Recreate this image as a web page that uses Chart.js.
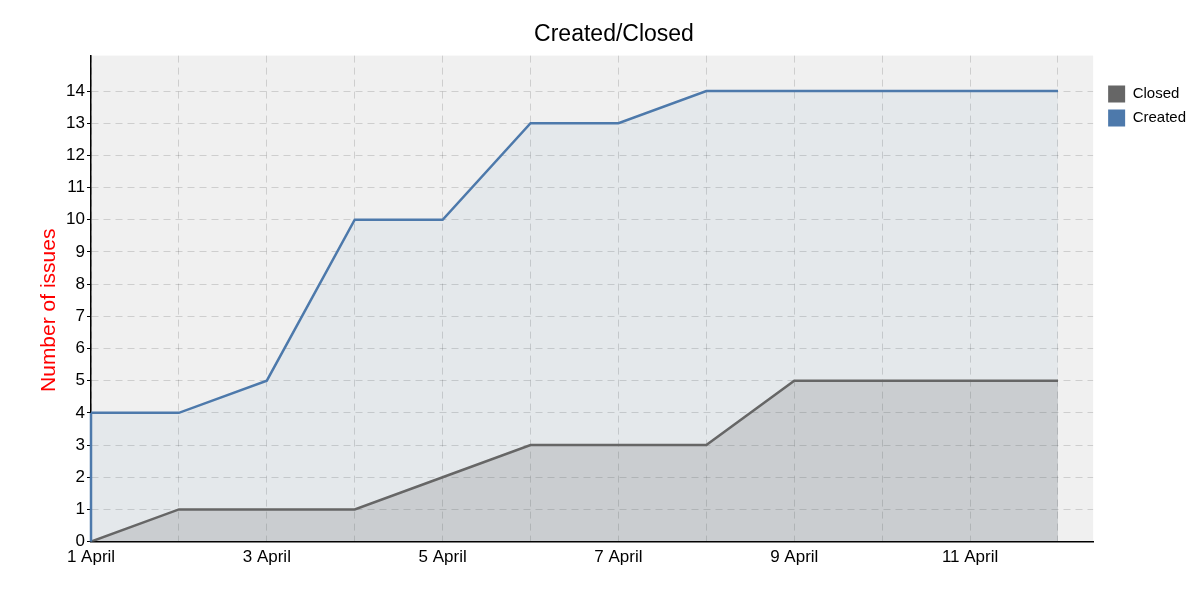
<!DOCTYPE html>
<html>
<head>
<meta charset="utf-8">
<script src="https://cdn.jsdelivr.net/npm/chart.js@4"></script>
<style>
  html, body { margin: 0; padding: 0; background: #fff; }
  #wrap { width: 1200px; height: 605px; }
</style>
</head>
<body>
<div id="wrap"><canvas id="issues-chart"></canvas></div>
<script>
const dayLabels = ["1 April", "2 April", "3 April", "4 April", "5 April", "6 April",
  "7 April", "8 April", "9 April", "10 April", "11 April", "12 April"];
const shownLabels = ["1 April", "", "3 April", "", "5 April", "", "7 April", "", "9 April", "", "11 April", ""];
const created = [4, 4, 5, 10, 10, 13, 13, 14, 14, 14, 14, 14];
const closed = [0, 1, 1, 1, 2, 3, 3, 3, 5, 5, 5, 5];
const yTicks = [0, 1, 2, 3, 4, 5, 6, 7, 8, 9, 10, 11, 12, 13, 14];

const FONT = "'Liberation Sans', Arial, Helvetica, sans-serif";
const BLUE = "#4d79ab";
const GREY = "#666666";

function points(values) {
  return values.map((v, i) => ({ x: i, y: v }));
}

// grey plot background
const plotBg = {
  id: "plotBg",
  beforeDraw(chart) {
    const { ctx, chartArea: a } = chart;
    ctx.save();
    ctx.fillStyle = "#f0f0f0";
    ctx.fillRect(a.left, a.top, a.right - a.left, a.bottom - a.top);
    ctx.restore();
  },
};

// the created area is outlined down to zero on its left side
const leftEdge = {
  id: "leftEdge",
  afterDatasetsDraw(chart) {
    const { ctx, scales } = chart;
    const x = scales.x.getPixelForValue(0);
    ctx.save();
    ctx.strokeStyle = BLUE;
    ctx.lineWidth = 2.5;
    ctx.beginPath();
    ctx.moveTo(x, scales.y.getPixelForValue(0));
    ctx.lineTo(x, scales.y.getPixelForValue(created[0]));
    ctx.stroke();
    ctx.restore();
  },
};

// nudge the legend right and down, and the title a little right
const placeBoxes = {
  id: "placeBoxes",
  afterLayout(chart) {
    const lg = chart.legend;
    const a = chart.chartArea;
    const dx = a.right + 8 - lg.left;
    lg.left += dx;
    lg.right += dx;
    const h = lg.bottom - lg.top;
    lg.top = a.top + 23;
    lg.bottom = lg.top + h;
    if (chart.titleBlock) {
      chart.titleBlock.left += 20;
      chart.titleBlock.right += 20;
    }
  },
};

const chart = new Chart(document.getElementById("issues-chart"), {
  type: "line",
  data: {
    datasets: [
      {
        label: "Closed",
        data: points(closed),
        borderColor: GREY,
        backgroundColor: "rgba(102,102,102,0.2)",
        borderWidth: 2.5,
        fill: "origin",
        pointRadius: 0,
        tension: 0,
      },
      {
        label: "Created",
        data: points(created),
        borderColor: BLUE,
        backgroundColor: "rgba(77,121,171,0.07)",
        borderWidth: 2.5,
        fill: "origin",
        pointRadius: 0,
        tension: 0,
      },
    ],
  },
  options: {
    responsive: true,
    maintainAspectRatio: false,
    animation: false,
    layout: { padding: { left: 0, right: 12, top: 0, bottom: 31 } },
    plugins: {
      tooltip: { enabled: false },
      title: {
        display: true,
        text: "Created/Closed",
        color: "#000",
        font: { family: FONT, size: 23, weight: "normal" },
        padding: { top: 21, bottom: 7 },
      },
      legend: {
        position: "right",
        align: "start",
        labels: {
          color: "#000",
          boxWidth: 17,
          boxHeight: 17,
          padding: 7,
          font: { family: FONT, size: 15 },
          generateLabels(ch) {
            return ch.data.datasets.map((ds, i) => ({
              text: ds.label,
              fillStyle: ds.borderColor,
              strokeStyle: ds.borderColor,
              fontColor: "#000",
              lineWidth: 0,
              datasetIndex: i,
            }));
          },
        },
      },
    },
    scales: {
      x: {
        type: "linear",
        min: 0,
        max: 11.4,
        afterBuildTicks(scale) {
          scale.ticks = dayLabels.map((d, i) => ({ value: i }));
        },
        ticks: {
          color: "#000",
          font: { family: FONT, size: 17 },
          maxRotation: 0,
          autoSkip: false,
          padding: 6,
          callback: (v) => shownLabels[v],
        },
        grid: {
          color: "rgba(0,0,0,0.14)",
          drawTicks: false,
        },
        border: { display: true, color: "#000", width: 1.5, dash: [7, 5] },
      },
      y: {
        type: "linear",
        min: 0,
        max: 15.1,
        afterBuildTicks(scale) {
          scale.ticks = yTicks.map((v) => ({ value: v }));
        },
        afterFit(scale) {
          scale.width = 91;
        },
        title: {
          display: true,
          text: "Number of issues    ",
          color: "#ff0000",
          font: { family: FONT, size: 21 },
          padding: { top: 37, bottom: 0 },
        },
        ticks: {
          color: "#000",
          font: { family: FONT, size: 17 },
          padding: 2,
        },
        grid: {
          color: "rgba(0,0,0,0.14)",
          tickColor: "#000",
          tickLength: 4,
          drawTicks: true,
        },
        border: { display: true, color: "#000", width: 1.5, dash: [7, 5] },
      },
    },
  },
  plugins: [plotBg, leftEdge, placeBoxes],
});
</script>
</body>
</html>
